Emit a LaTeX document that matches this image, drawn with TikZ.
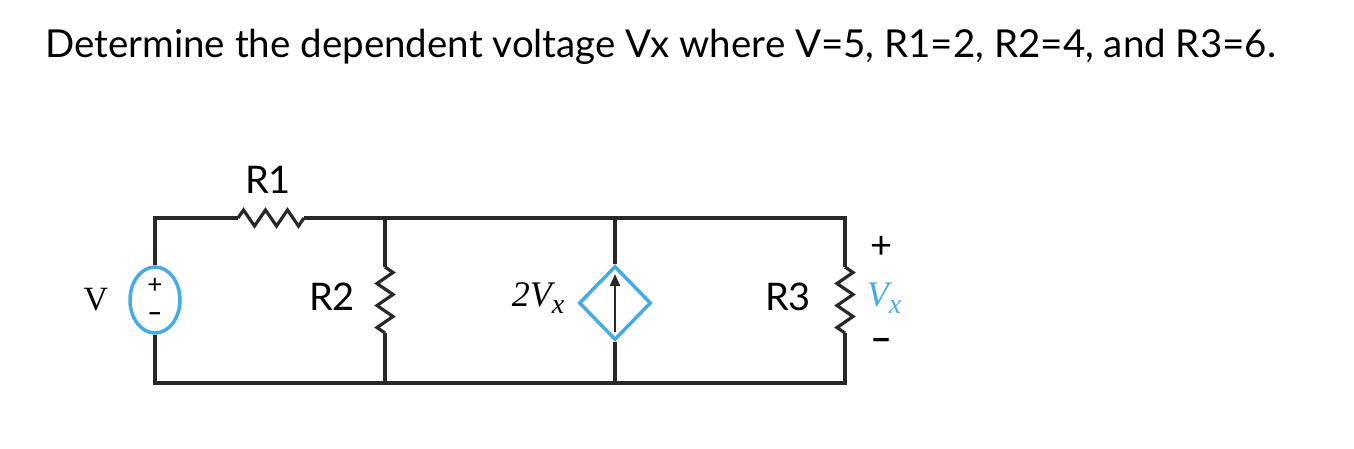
\documentclass[tikz,border=0pt]{standalone}
\usepackage{fontspec}
\setmainfont{Lato}
\newfontfamily\serifv{Liberation Serif}
\usetikzlibrary{shapes.geometric,decorations.pathmorphing,arrows.meta}
\definecolor{cblue}{RGB}{70,170,230}
\definecolor{wire}{RGB}{40,40,40}
\tikzset{x=1pt,y=-1pt,
  w/.style={draw=wire,line width=3.2pt},
  res/.style={decorate,decoration={zigzag,segment length=22pt,amplitude=8pt}},
  lbl/.style={font=\fontsize{38}{42}\selectfont,text=black,inner sep=1pt}}
\begin{document}
\begin{tikzpicture}
\useasboundingbox (0,0) rectangle (1354,448);
\node[anchor=west,font=\fontsize{38.5}{44}\selectfont,inner sep=0] (title) at (45,47) {Determine the dependent voltage Vx where V=5, R1=2, R2=4, and R3=6.};
\coordinate (tl) at (155,218); \coordinate (bl) at (155,383);
\coordinate (t2) at (385,218); \coordinate (b2) at (385,383);
\coordinate (t3) at (615,218); \coordinate (b3) at (615,383);
\coordinate (t4) at (845,218); \coordinate (b4) at (845,383);
\coordinate (r1a) at (238,218); \coordinate (r1b) at (304,218);
\coordinate (r2a) at (385,267); \coordinate (r2b) at (385,333);
\coordinate (r3a) at (845,267); \coordinate (r3b) at (845,333);
\node[ellipse,draw=cblue,line width=3.5pt,minimum width=50pt,minimum height=66pt,inner sep=0] (vs) at (155,300) {};
\node[diamond,draw=cblue,line width=3.5pt,minimum width=72pt,minimum height=74pt,inner sep=0] (cs) at (615,303) {};
\draw[w] (vs.north) -- (tl) -- (r1a);
\draw[w,res] (r1a) -- (r1b);
\draw[w] (r1b) -- (t4) -- (r3a);
\draw[w,res] (r3a) -- (r3b);
\draw[w] (r3b) -- (b4) -- (bl) -- (vs.south);
\draw[w] (t2) -- (r2a); \draw[w,res] (r2a) -- (r2b); \draw[w] (r2b) -- (b2);
\draw[w] (t3) -- (cs.north); \draw[w] (cs.south) -- (b3);
\draw[line width=2.2pt,draw=wire,-{Triangle[length=12pt,width=10pt]}] (615,332) -- (615,274);
\node[font=\fontsize{26}{28}\selectfont,inner sep=0] (vp) at (155,286) {+};
\node[font=\fontsize{26}{28}\selectfont\bfseries,inner sep=0] (vm) at (155,317) {–};
\node[font=\serifv\fontsize{34}{38}\selectfont] (vl) at (96,300) {V};
\node[lbl] (r1l) at (268,180) {R1};
\node[lbl] (r2l) at (332,297) {R2};
\node[lbl] (r3l) at (788,297) {R3};
\node[font=\serifv\itshape\fontsize{36}{40}\selectfont] (dl) at (538,298) {2V\raisebox{-7pt}{\fontsize{28}{30}\selectfont x}};
\node[lbl] (pp) at (882,247) {+};
\node[font=\serifv\itshape\fontsize{36}{40}\selectfont,text=cblue] (vx) at (884,298) {V\raisebox{-7pt}{\fontsize{28}{30}\selectfont x}};
\node[lbl] (mm) at (882,345) {\bfseries –};
\end{tikzpicture}
\end{document}
